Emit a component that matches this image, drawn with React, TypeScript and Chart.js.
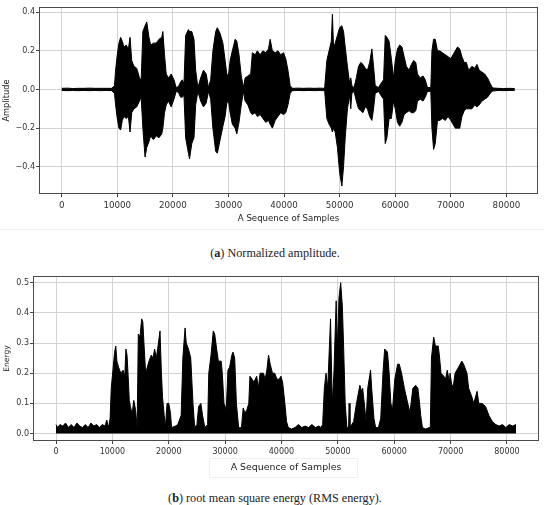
import React, { useEffect, useRef } from "react";
import { Chart, registerables } from "chart.js";
Chart.register(...registerables);

// ---------- (a) normalized amplitude: envelope ----------
const ampSamples = [
  0, 1000, 2000, 3000, 4000, 5000, 6000, 7000, 8000, 9000, 9500, 9700, 10000, 10300, 10600, 10900,
  11200, 11600, 12000, 12300, 12600, 13000, 13500, 14000, 14300, 14600, 15000, 15300, 15700, 16000,
  16500, 17000, 17500, 18000, 18200, 18500, 18800, 19200, 19700, 20200, 20600, 21000, 21400, 21700,
  22000, 22300, 22800, 23000, 23400, 23800, 24100, 24500, 25000, 25500, 26000, 26400, 26800, 27200,
  27700, 28000, 28500, 29000, 29400, 29700, 30000, 30300, 30700, 31200, 31500, 31900, 32300, 32700,
  33000, 33500, 34000, 34300, 34800, 35200, 35700, 36200, 36700, 37200, 37500, 37900, 38400, 38900,
  39400, 39900, 40300, 40700, 41100, 41500, 42500, 43500, 44500, 45500, 46500, 47300, 47700, 48100,
  48500, 48700, 48900, 49200, 49600, 50000, 50400, 50700, 51000, 51400, 51800, 52000, 52200, 52600,
  53000, 53400, 53800, 54200, 54600, 55000, 55400, 55800, 56100, 56400, 57000, 57400, 57900, 58200,
  58500, 58900, 59300, 59700, 60000, 60400, 60800, 61200, 61600, 62000, 62500, 62900, 63300, 63700,
  64000, 64500, 65000, 65400, 65800, 66400, 66600, 66900, 67200, 67600, 68000, 68500, 69000, 69500,
  70000, 70400, 70800, 71200, 71600, 72000, 72400, 72800, 73200, 73800, 74300, 74700, 75100, 75600,
  76100, 76600, 77100, 77500, 78500, 79500, 80500, 81500,
];
const ampUpper = [
  0.006, 0.007, 0.005, 0.006, 0.006, 0.007, 0.006, 0.006, 0.006, 0.006, 0.02, 0.1, 0.18, 0.24, 0.27, 0.25,
  0.22, 0.23, 0.21, 0.27, 0.15, 0.12, 0.11, 0.06, 0.05, 0.3, 0.33, 0.35, 0.27, 0.23,
  0.24, 0.24, 0.26, 0.27, 0.3, 0.18, 0.08, 0.06, 0.08, 0.05, 0.01, 0.015, 0.04, 0.05,
  0.03, 0.28, 0.31, 0.3, 0.3, 0.26, 0.1, 0.01, 0.06, 0.1, 0.08, 0.01, 0.05, 0.2,
  0.3, 0.32, 0.29, 0.24, 0.15, 0.08, 0.07, 0.15, 0.2, 0.26, 0.25, 0.18, 0.07, 0.01,
  0.06, 0.07, 0.08, 0.19, 0.18, 0.2, 0.18, 0.2, 0.19, 0.21, 0.26, 0.2, 0.19, 0.2,
  0.18, 0.19, 0.16, 0.1, 0.02, 0.006, 0.007, 0.006, 0.007, 0.006, 0.007, 0.006, 0.15, 0.2,
  0.25, 0.39, 0.22, 0.24, 0.28, 0.32, 0.33, 0.3, 0.22, 0.12, 0.03, 0.06, 0.02, 0.01,
  0.06, 0.12, 0.14, 0.13, 0.11, 0.1, 0.14, 0.21, 0.12, 0.02, 0.01, 0.03, 0.05, 0.28,
  0.27, 0.25, 0.16, 0.06, 0.15, 0.21, 0.23, 0.22, 0.17, 0.12, 0.1, 0.13, 0.15, 0.14,
  0.08, 0.06, 0.07, 0.05, 0.01, 0.01, 0.2, 0.26, 0.26, 0.2, 0.2, 0.19, 0.18, 0.17,
  0.16, 0.18, 0.2, 0.22, 0.21, 0.17, 0.14, 0.14, 0.1, 0.12, 0.11, 0.13, 0.1, 0.09,
  0.08, 0.06, 0.03, 0.008, 0.006, 0.005, 0.006, 0.005,
];
const ampLower = [
  -0.005, -0.006, -0.005, -0.006, -0.005, -0.006, -0.005, -0.006, -0.005, -0.006, -0.02, -0.08, -0.15, -0.2, -0.21, -0.16,
  -0.14, -0.15, -0.14, -0.22, -0.12, -0.1, -0.09, -0.06, -0.04, -0.2, -0.35, -0.3, -0.27, -0.24,
  -0.26, -0.24, -0.25, -0.23, -0.2, -0.12, -0.08, -0.06, -0.09, -0.05, -0.01, -0.015, -0.04, -0.04,
  -0.03, -0.25, -0.33, -0.36, -0.28, -0.25, -0.08, -0.01, -0.06, -0.09, -0.07, -0.01, -0.05, -0.2,
  -0.32, -0.33, -0.26, -0.19, -0.14, -0.07, -0.06, -0.12, -0.18, -0.2, -0.23, -0.17, -0.08, -0.01,
  -0.06, -0.08, -0.12, -0.13, -0.12, -0.14, -0.13, -0.15, -0.17, -0.16, -0.18, -0.2, -0.16, -0.14,
  -0.12, -0.13, -0.12, -0.08, -0.02, -0.006, -0.005, -0.006, -0.005, -0.006, -0.005, -0.006, -0.15, -0.18,
  -0.2, -0.22, -0.2, -0.22, -0.3, -0.43, -0.5, -0.4, -0.25, -0.1, -0.03, -0.1, -0.02, -0.01,
  -0.06, -0.1, -0.11, -0.12, -0.09, -0.1, -0.14, -0.16, -0.1, -0.02, -0.01, -0.03, -0.05, -0.28,
  -0.25, -0.15, -0.15, -0.06, -0.1, -0.17, -0.19, -0.17, -0.13, -0.12, -0.11, -0.12, -0.12, -0.11,
  -0.06, -0.05, -0.06, -0.04, -0.01, -0.01, -0.2, -0.31, -0.28, -0.16, -0.16, -0.15, -0.16, -0.14,
  -0.16, -0.18, -0.2, -0.2, -0.2, -0.14, -0.11, -0.1, -0.1, -0.1, -0.08, -0.09, -0.08, -0.06,
  -0.05, -0.04, -0.02, -0.008, -0.005, -0.006, -0.005, -0.005,
];

// ---------- (b) RMS energy ----------
const energySamples = [
  0, 300, 700, 1200, 1700, 2200, 2700, 3200, 3700, 4200, 4700, 5200, 5700, 6200, 6700, 7200, 7700, 8200,
  8700, 9000, 9300, 9600, 9800, 10100, 10400, 10600, 10800, 11100, 11500, 11900, 12200, 12400, 12600,
  12800, 13000, 13200, 13500, 13800, 14100, 14400, 14600, 14900, 15200, 15400, 15600, 15900, 16200,
  16500, 16900, 17200, 17500, 17800, 18100, 18450, 18700, 18900, 19200, 19400, 19700, 20000, 20300,
  20500, 21200, 21600, 21900, 22200, 22500, 22900, 23100, 23500, 23900, 24300, 24600, 25000, 25300,
  25700, 26000, 26400, 26900, 27100, 27500, 27900, 28150, 28500, 28800, 29300, 29500, 29800, 30200,
  30500, 30800, 31200, 31400, 31700, 32000, 32400, 32900, 33200, 33500, 33800, 34200, 34400, 34800,
  35100, 35600, 35900, 36200, 36800, 37100, 37400, 37700, 38000, 38400, 38800, 39200, 39600, 39900,
  40200, 40600, 40900, 41200, 41800, 42400, 43000, 43600, 44200, 44800, 45400, 46000, 46600, 47000,
  47300, 47600, 47900, 48200, 48700, 49000, 49300, 49700, 49900, 50200, 50500, 50800, 51000, 51300,
  51600, 51900, 52000, 52150, 52800, 53300, 53900, 54200, 54400, 54800, 55000, 55300, 55800, 56000,
  56400, 56700, 57200, 57600, 58000, 58300, 58800, 59100, 59400, 59700, 60100, 60600, 60900, 61300,
  61800, 62400, 62800, 63300, 63800, 64200, 64500, 64700, 65000, 65600, 66200, 66400, 66600, 67000,
  67300, 67800, 68000, 68300, 68800, 69100, 69400, 69800, 69900, 70200, 70500, 70800, 71400, 72000,
  72300, 72900, 73200, 73800, 74100, 74700, 75000, 75600, 76200, 76800, 77400, 78000, 78600, 79200,
  79800, 80400, 81000, 81600,
];
const energyValues = [
  0.03, 0.02, 0.03, 0.025, 0.035, 0.02, 0.03, 0.02, 0.035, 0.025, 0.02, 0.03, 0.02, 0.035, 0.025, 0.03, 0.02, 0.03,
  0.025, 0.045, 0.02, 0.05, 0.15, 0.21, 0.27, 0.29, 0.24, 0.22, 0.2, 0.21, 0.19, 0.28, 0.26,
  0.19, 0.11, 0.09, 0.065, 0.11, 0.08, 0.02, 0.33, 0.32, 0.38, 0.37, 0.3, 0.2, 0.22,
  0.24, 0.26, 0.25, 0.28, 0.25, 0.29, 0.34, 0.2, 0.12, 0.06, 0.02, 0.1, 0.1, 0.07,
  0.02, 0.025, 0.03, 0.045, 0.06, 0.25, 0.35, 0.3, 0.28, 0.25, 0.1, 0.02, 0.03, 0.09,
  0.1, 0.06, 0.02, 0.03, 0.2, 0.26, 0.34, 0.33, 0.28, 0.24, 0.24, 0.2, 0.1, 0.08,
  0.21, 0.22, 0.26, 0.27, 0.25, 0.1, 0.02, 0.02, 0.085, 0.07, 0.075, 0.1, 0.19, 0.18,
  0.17, 0.19, 0.15, 0.2, 0.2, 0.18, 0.21, 0.26, 0.23, 0.2, 0.2, 0.18, 0.18, 0.19,
  0.17, 0.1, 0.04, 0.02, 0.015, 0.02, 0.03, 0.02, 0.025, 0.02, 0.03, 0.02, 0.025, 0.02,
  0.03, 0.15, 0.2, 0.15, 0.38, 0.1, 0.2, 0.44, 0.28, 0.45, 0.5, 0.42, 0.3, 0.1,
  0.02, 0.02, 0.1, 0.02, 0.04, 0.1, 0.16, 0.14, 0.15, 0.08, 0.04, 0.15, 0.21, 0.15,
  0.05, 0.02, 0.02, 0.05, 0.2, 0.28, 0.27, 0.2, 0.1, 0.08, 0.18, 0.23, 0.23, 0.2,
  0.15, 0.1, 0.07, 0.15, 0.16, 0.15, 0.1, 0.06, 0.02, 0.015, 0.02, 0.02, 0.25, 0.32,
  0.29, 0.29, 0.26, 0.2, 0.19, 0.18, 0.21, 0.17, 0.2, 0.16, 0.16, 0.2, 0.22, 0.24,
  0.23, 0.2, 0.15, 0.12, 0.1, 0.14, 0.1, 0.1, 0.09, 0.06, 0.04, 0.03, 0.025, 0.03,
  0.02, 0.03, 0.025, 0.03,
];

// ---------- ticks ----------
const xTickValues = [0, 10000, 20000, 30000, 40000, 50000, 60000, 70000, 80000];
const ampTickValues = [-0.4, -0.2, 0.0, 0.2, 0.4];
const energyTickValues = [0.0, 0.1, 0.2, 0.3, 0.4, 0.5];

const TICK_FONT = "'DejaVu Sans', sans-serif";

const fmt = (v: number) => {
  const s = Math.abs(v).toFixed(1);
  return v < -1e-9 ? "\u2212" + s : s;
};

const framePlugin = {
  id: "frame",
  afterDatasetsDraw(chart: any) {
    const { ctx, chartArea } = chart;
    const { left, top, right, bottom } = chartArea;
    ctx.save();
    ctx.strokeStyle = "#4a4a4a";
    ctx.lineWidth = 1;
    ctx.strokeRect(Math.round(left) + 0.5, Math.round(top) + 0.5, Math.round(right - left) - 1, Math.round(bottom - top) - 1);
    ctx.restore();
  },
};

function baseX(height: number, tickSize: number, tickPad: number, titleSize: number, titlePad: number) {
  return {
    type: "linear" as const,
    min: -4080,
    max: 85680,
    afterBuildTicks: (s: any) => {
      s.ticks = xTickValues.map((v) => ({ value: v }));
    },
    afterFit: (s: any) => {
      s.height = height;
    },
    ticks: {
      callback: (v: any) => String(v),
      font: { family: TICK_FONT, size: tickSize },
      color: "#333",
      padding: tickPad,
      maxRotation: 0,
      autoSkip: false,
    },
    grid: { color: "#d2d2d2", tickColor: "#444", tickLength: 3, lineWidth: 1 },
    border: { display: false },
    title: {
      display: true,
      text: "A Sequence of Samples",
      font: { family: TICK_FONT, size: titleSize },
      color: "#222",
      padding: { top: 0, bottom: titlePad },
    },
  };
}

function baseY(width: number, min: number, max: number, ticksArr: number[], title: string, tickSize: number, titleSize: number) {
  return {
    min,
    max,
    afterBuildTicks: (s: any) => {
      s.ticks = ticksArr.map((v) => ({ value: v }));
    },
    afterFit: (s: any) => {
      s.width = width;
    },
    ticks: {
      callback: (v: any) => fmt(Number(v)),
      font: { family: TICK_FONT, size: tickSize },
      color: "#333",
      padding: 1,
      autoSkip: false,
    },
    grid: { color: "#d2d2d2", tickColor: "#444", tickLength: 3, lineWidth: 1 },
    border: { display: false },
    title: {
      display: true,
      text: title,
      font: { family: TICK_FONT, size: titleSize },
      color: "#222",
      padding: { top: 2, bottom: 0 },
    },
  };
}

export default function App() {
  const ref1 = useRef<HTMLCanvasElement>(null);
  const ref2 = useRef<HTMLCanvasElement>(null);

  useEffect(() => {
    const c1 = new Chart(ref1.current as HTMLCanvasElement, {
      type: "line",
      data: {
        datasets: [
          {
            data: ampSamples.map((s, i) => ({ x: s, y: ampUpper[i] })),
            borderColor: "#000",
            backgroundColor: "#000",
            borderWidth: 1,
            pointRadius: 0,
            fill: "+1",
            tension: 0,
          },
          {
            data: ampSamples.map((s, i) => ({ x: s, y: ampLower[i] })),
            borderColor: "#000",
            backgroundColor: "#000",
            borderWidth: 1,
            pointRadius: 0,
            fill: false,
            tension: 0,
          },
        ],
      },
      options: {
        animation: false,
        responsive: false,
        events: [],
        layout: { padding: { top: 7, right: 12, left: 0, bottom: 0 } },
        plugins: { legend: { display: false }, tooltip: { enabled: false } },
        scales: {
          x: baseX(31, 8.7, 4, 8.6, 1) as any,
          y: baseY(39, -0.541, 0.427, ampTickValues, "Amplitude", 8, 8.2) as any,
        },
      },
      plugins: [framePlugin],
    });

    const c2 = new Chart(ref2.current as HTMLCanvasElement, {
      type: "line",
      data: {
        datasets: [
          {
            data: energySamples.map((s, i) => ({ x: s, y: energyValues[i] })),
            borderColor: "#000",
            backgroundColor: "#000",
            borderWidth: 1,
            pointRadius: 0,
            fill: "origin",
            tension: 0,
          },
        ],
      },
      options: {
        animation: false,
        responsive: false,
        events: [],
        layout: { padding: { top: 6, right: 11, left: 0, bottom: 0 } },
        plugins: { legend: { display: false }, tooltip: { enabled: false } },
        scales: {
          x: baseX(39, 8, 3, 9.4, 7) as any,
          y: baseY(33, -0.0245, 0.522, energyTickValues, "Energy", 8, 7.6) as any,
        },
      },
      plugins: [framePlugin],
    });

    return () => {
      c1.destroy();
      c2.destroy();
    };
  }, []);

  const caption: React.CSSProperties = {
    position: "absolute",
    left: 0,
    width: 550,
    textAlign: "center",
    fontFamily: "'Liberation Serif', 'DejaVu Serif', serif",
    fontSize: 12.2,
    color: "#222",
    lineHeight: "14px",
    whiteSpace: "nowrap",
  };

  return (
    <div style={{ position: "absolute", left: 0, top: 0, width: 550, height: 505, background: "#fff", overflow: "hidden" }}>
      <canvas ref={ref1} width={550} height={225} style={{ position: "absolute", left: 0, top: 0, width: 550, height: 225 }} />
      <div style={{ position: "absolute", left: 0, top: 229, width: 545, height: 0, borderTop: "1px solid #efefef" }} />
      <div style={{ ...caption, top: 246 }}>
        (<b>a</b>) Normalized amplitude.
      </div>
      <canvas ref={ref2} width={550} height={210} style={{ position: "absolute", left: 0, top: 270, width: 550, height: 210 }} />
      <div style={{ position: "absolute", left: 209, top: 458, width: 149, height: 20, border: "1px solid #f0f0f0", boxSizing: "border-box", pointerEvents: "none" }} />
      <div style={{ ...caption, top: 491 }}>
        (<b>b</b>) root mean square energy (RMS energy).
      </div>
    </div>
  );
}
